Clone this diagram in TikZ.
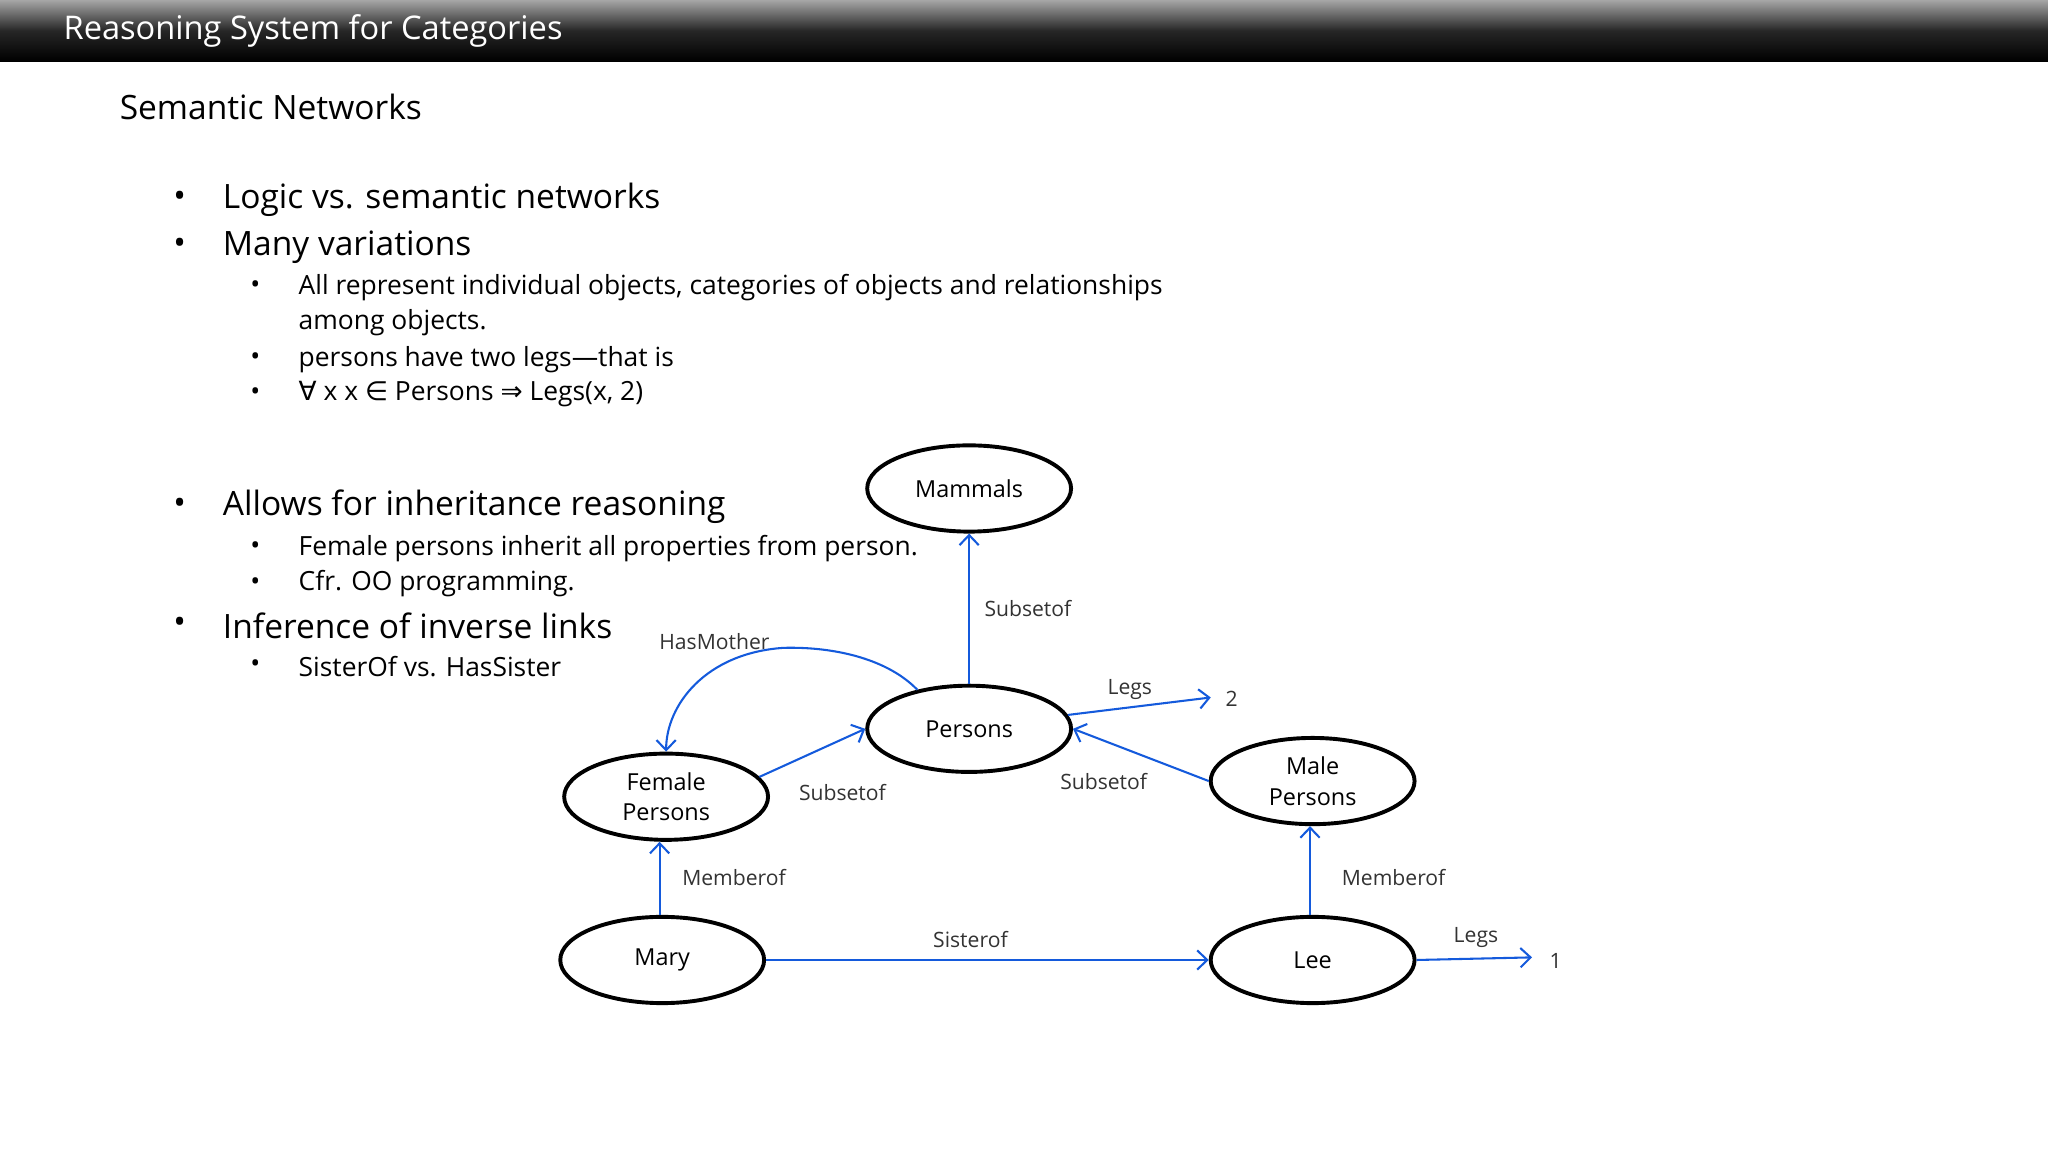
\documentclass[tikz,border=0pt]{standalone}
\usepackage{fontspec}
\setmainfont{Open Sans}
\newfontfamily\symf{DejaVu Sans}
\usetikzlibrary{arrows.meta,shapes.geometric}
\definecolor{lnk}{RGB}{20,90,220}
\begin{document}
\begin{tikzpicture}[x=0.01cm,y=-0.01cm,
  ell/.style={draw,ellipse,line width=0.85pt,minimum width=1.56cm,minimum height=0.66cm,align=center,font=\fontsize{5.1}{6.6}\selectfont,inner sep=0pt},
  con/.style={draw=lnk,line width=0.45pt,-{Straight Barb[length=2.2pt,width=4.2pt]}},
  lab/.style={font=\fontsize{4.6}{5.5}\selectfont,text=black!80,inner sep=0pt},
  big/.style={font=\fontsize{7.3}{9}\selectfont,anchor=west,inner sep=0pt},
  sml/.style={font=\fontsize{5.75}{7.7}\selectfont,anchor=west,inner sep=0pt,align=left}]
\useasboundingbox (0,0) rectangle (1568,882);
\fill[white] (0,0) rectangle (1568,882);
\shade[top color=gray!70,bottom color=black,middle color=black!85] (0,0) rectangle (1568,47);
\node[anchor=west,text=white,font=\fontsize{7.1}{8}\selectfont,inner sep=0pt] (title) at (48,24) {Reasoning System for Categories};
\node[anchor=west,font=\fontsize{7.3}{8}\selectfont,inner sep=0pt] (sub) at (91,82) {Semantic Networks};
\foreach \y in {153,189,388,479} \node[big] at (132,\y) {•};
\foreach \y in {220,275,302,420,447,510} \node[sml] at (191,\y) {•};
\node[big] (b1) at (170,153) {Logic vs. semantic networks};
\node[big] (b2) at (170,189) {Many variations};
\node[sml,anchor=north west] (s1) at (228,209) {All represent individual objects, categories of objects and relationships\\among objects.};
\node[sml] (s2) at (228,275) {persons have two legs—that is};
\node[sml] (s3) at (228,302) {{\symf ∀} x x {\symf ∈} Persons {\symf ⇒} Legs(x, 2)};
\node[big] (b3) at (170,388) {Allows for inheritance reasoning};
\node[sml] (s4) at (228,420) {Female persons inherit all properties from person.};
\node[sml] (s5) at (228,447) {Cfr. OO programming.};
\node[big] (b4) at (170,479) {Inference of inverse links};
\node[sml] (s6) at (228,510) {SisterOf vs. HasSister};

\node[ell] (mam) at (742,374) {Mammals};
\node[ell] (per) at (742,558) {Persons};
\node[ell] (fem) at (510,610) {Female\\Persons};
\node[ell] (male) at (1005,598) {Male\\Persons};
\node[ell] (mary) at (507,735) {Mary};
\node[ell] (lee) at (1005,735) {Lee};
\node[lab] (two) at (943,535) {2};
\node[lab] (one) at (1191,736) {1};
\coordinate (twoin) at (927,534);
\coordinate (onein) at (1173,733);

\draw[con] (per) -- (mam);
\node[lab] at (787,466) {Subsetof};
\draw[con] (per.8) -- (twoin);
\node[lab] at (865,528) {Legs};
\draw[con] (fem.12) -- (per.west);
\node[lab] at (645,607) {Subsetof};
\draw[con] (male.west) -- (per.east);
\node[lab] at (845,598) {Subsetof};
\draw[con] (mary.north) ++(-2,0) coordinate (mn) (mn) -- (fem.south -| mn);
\node[lab] at (562,672) {Memberof};
\draw[con] (lee.north) ++(-2,0) coordinate (ln) (ln) -- (male.south -| ln);
\node[lab] at (1067,672) {Memberof};
\draw[con] (mary) -- (lee);
\node[lab] at (743,719) {Sisterof};
\draw[con] (lee.east) -- (onein);
\node[lab] at (1130,718) {Legs};
\draw[con] (per.143) .. controls (680,505) and (640,495) .. (600,496) .. controls (540,500) and (510,540) .. (fem.north);
\node[lab] at (547,491) {HasMother};
\end{tikzpicture}
\end{document}
